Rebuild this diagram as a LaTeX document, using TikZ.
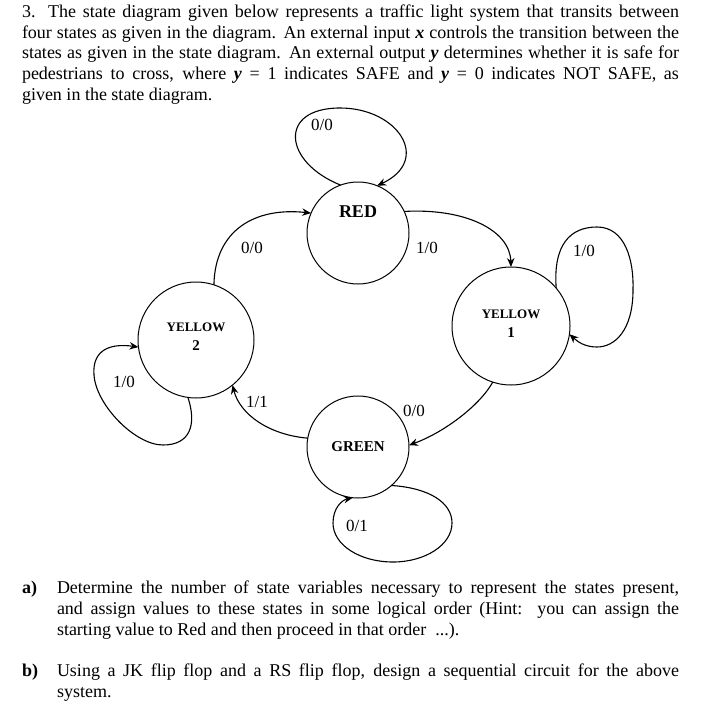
\documentclass[tikz,border=0pt]{standalone}
\usepackage{fontspec}
\setmainfont{Liberation Serif}
\usetikzlibrary{arrows.meta}
\newcommand{\bx}{\textbf{\textit{x}}}
\newcommand{\by}{\textbf{\textit{y}}}
\newcommand{\jline}[2]{\makebox[#1][s]{#2}}
\begin{document}
\begin{tikzpicture}[x=1pt,y=-1pt,
  txt/.style={anchor=base west,inner sep=0pt,outer sep=0pt,font=\fontsize{18}{20.7}\selectfont},
  st/.style={circle,draw,line width=1pt,inner sep=0pt,outer sep=0pt},
  lbl/.style={inner sep=0pt,font=\fontsize{17}{18}\selectfont},
  edge/.style={line width=1.1pt,-{Stealth[length=9pt,width=7.5pt,inset=3pt]}}]
\useasboundingbox (0,0) rectangle (705,709);
\fill[white] (0,0) rectangle (705,709);
% top paragraph
\node[txt] (t1) at (22,17.5) {\jline{657pt}{3. The state diagram given below represents a traffic light system that transits between}};
\node[txt] (t2) at (22,38.2) {\jline{657pt}{four states as given in the diagram. An external input \bx{} controls the transition between the}};
\node[txt] (t3) at (22,58.9) {\jline{657pt}{states as given in the state diagram. An external output \by{} determines whether it is safe for}};
\node[txt] (t4) at (22,79.6) {\jline{657pt}{pedestrians to cross, where \by{} = 1 indicates SAFE and \by{} = 0 indicates NOT SAFE, as}};
\node[txt] (t5) at (22,100.3) {given in the state diagram.};
% states
\node[st,minimum size=102pt] (red) at (358,233) {};
\node[st,minimum size=116pt] (y2) at (196,340) {};
\node[st,minimum size=118pt] (y1) at (511,326) {};
\node[st,minimum size=102pt] (green) at (358,447) {};
\node[inner sep=0pt,font=\fontsize{18}{18}\selectfont\bfseries] (redt) at (358,212) {RED};
\node[inner sep=0pt,font=\fontsize{13}{13}\selectfont\bfseries] (y2t) at (196,327) {YELLOW};
\node[inner sep=0pt,font=\fontsize{15}{15}\selectfont\bfseries] (y2n) at (196,346) {2};
\node[inner sep=0pt,font=\fontsize{13}{13}\selectfont\bfseries] (y1t) at (511,314) {YELLOW};
\node[inner sep=0pt,font=\fontsize{15}{15}\selectfont\bfseries] (y1n) at (511,333) {1};
\node[inner sep=0pt,font=\fontsize{15}{15}\selectfont\bfseries] (gt) at (358,447) {GREEN};
% transitions
\draw[edge] (red.110) .. controls (283,162) and (278,108) .. (340,108)
  .. controls (398,108) and (432,160) .. (red.68);
\draw[edge] (y2.72) .. controls (215,230) and (255,207) .. (red.157);
\draw[edge] (red.25) .. controls (465,208) and (510,230) .. (y1.90);
\draw[edge] (y1.40) .. controls (553,245) and (570,227) .. (597,227)
  .. controls (625,227) and (634,260) .. (633,290)
  .. controls (633,330) and (615,347) .. (597,347)
  .. controls (585,347) and (578,342) .. (y1.-8);
\draw[edge] (y1.252) .. controls (480,405) and (445,432) .. (green.2);
\draw[edge] (green.170) .. controls (270,435) and (240,415) .. (y2.-51);
\draw[edge] (y2.262) .. controls (197,425) and (190,445) .. (163,445)
  .. controls (135,445) and (96,405) .. (94,375)
  .. controls (92,350) and (110,343) .. (y2.187);
\draw[edge] (green.-49) .. controls (430,488) and (452,503) .. (452,523)
  .. controls (452,545) and (425,562) .. (393,562)
  .. controls (360,562) and (333,545) .. (333,523)
  .. controls (333,508) and (342,500) .. (green.264);
% labels
\node[lbl] (l1) at (322,125) {0/0};
\node[lbl] (l2) at (252,248) {0/0};
\node[lbl] (l3) at (427,248) {1/0};
\node[lbl] (l4) at (584,251) {1/0};
\node[lbl] (l5) at (124,382) {1/0};
\node[lbl] (l6) at (257,402) {1/1};
\node[lbl] (l7) at (414,411) {0/0};
\node[lbl] (l8) at (357,526) {0/1};
% questions
\node[txt] (qa) at (22,593) {\textbf{a)}};
\node[txt] (a1) at (57,593) {\jline{622pt}{Determine the number of state variables necessary to represent the states present,}};
\node[txt] (a2) at (57,614) {\jline{622pt}{and assign values to these states in some logical order (Hint:\ \ you can assign the}};
\node[txt] (a3) at (57,635) {starting value to Red and then proceed in that order\ \ ...).};
\node[txt] (qb) at (22,676) {\textbf{b)}};
\node[txt] (b1) at (57,676) {\jline{622pt}{Using a JK flip flop and a RS flip flop, design a sequential circuit for the above}};
\node[txt] (b2) at (57,697) {system.};
\end{tikzpicture}
\end{document}
